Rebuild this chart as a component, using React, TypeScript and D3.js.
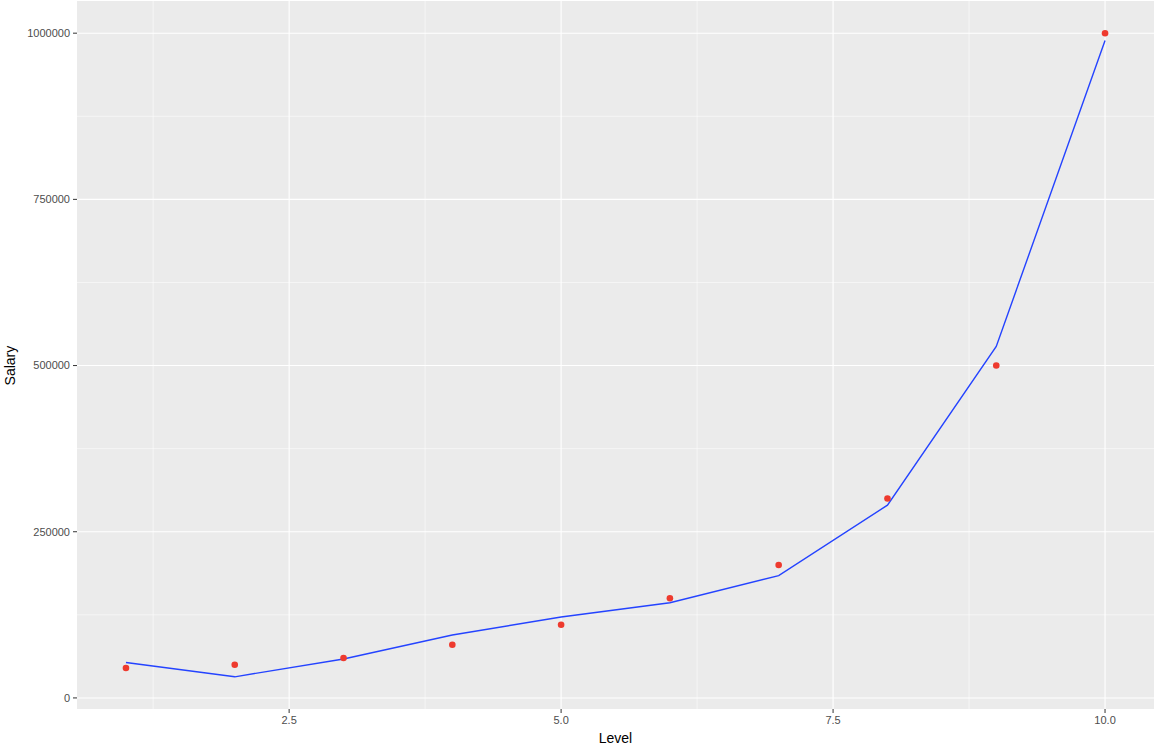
import * as d3 from "d3";

const levels = [1, 2, 3, 4, 5, 6, 7, 8, 9, 10];
const salaries = [45000, 50000, 60000, 80000, 110000, 150000, 200000, 300000, 500000, 1000000];
const predicted = [53357, 31760, 58642, 94633, 121725, 143275, 184004, 289994, 528694, 988917];
const xTicks = [2.5, 5, 7.5, 10];
const xMinor = [1.25, 3.75, 6.25, 8.75];
const yTicks = [0, 250000, 500000, 750000, 1000000];
const yMinor = [125000, 375000, 625000, 875000];

const W = 1157;
const H = 747;
const margin = { top: 1, right: 3, bottom: 38, left: 77 };

export default function App() {
  const iw = W - margin.left - margin.right;
  const ih = H - margin.top - margin.bottom;

  const xMin = d3.min(levels)!;
  const xMax = d3.max(levels)!;
  const xPad = (xMax - xMin) * 0.05;
  const x = d3.scaleLinear().domain([xMin - xPad, xMax + xPad]).range([0, iw]);

  const allY = [...salaries, ...predicted];
  const yLo = d3.min(allY)!;
  const yHi = d3.max(allY)!;
  const yPad = (yHi - yLo) * 0.05;
  const y = d3.scaleLinear().domain([yLo - yPad, yHi + yPad]).range([ih, 0]);

  const line = d3
    .line<number>()
    .x((_, i) => x(levels[i]))
    .y((d) => y(d));

  const font = "'Liberation Sans', Arial, Helvetica, sans-serif";

  return (
    <svg
      width={W}
      height={H}
      style={{ position: "absolute", left: 0, top: 0, background: "#fff" }}
      fontFamily={font}
    >
      <g transform={`translate(${margin.left},${margin.top})`}>
        <rect width={iw} height={ih} fill="#EBEBEB" />
        {yMinor.map((t) => (
          <line key={"ym" + t} x1={0} x2={iw} y1={y(t)} y2={y(t)} stroke="#fff" strokeWidth={0.55} />
        ))}
        {xMinor.map((t) => (
          <line key={"xm" + t} x1={x(t)} x2={x(t)} y1={0} y2={ih} stroke="#fff" strokeWidth={0.55} />
        ))}
        {yTicks.map((t) => (
          <line key={"y" + t} x1={0} x2={iw} y1={y(t)} y2={y(t)} stroke="#fff" strokeWidth={1.1} />
        ))}
        {xTicks.map((t) => (
          <line key={"x" + t} x1={x(t)} x2={x(t)} y1={0} y2={ih} stroke="#fff" strokeWidth={1.1} />
        ))}

        <path d={line(predicted)!} fill="none" stroke="#2443FF" strokeWidth={1.4} />
        {levels.map((l, i) => (
          <circle key={l} cx={x(l)} cy={y(salaries[i])} r={3.3} fill="#EE3A2E" />
        ))}

        {yTicks.map((t) => (
          <g key={"yl" + t} transform={`translate(0,${y(t)})`}>
            <line x1={-4} x2={0} stroke="#333" strokeWidth={1} />
            <text x={-7} dy="0.35em" textAnchor="end" fontSize={11} fill="#4D4D4D">
              {d3.format("d")(t)}
            </text>
          </g>
        ))}
        {xTicks.map((t) => (
          <g key={"xl" + t} transform={`translate(${x(t)},${ih})`}>
            <line y1={0} y2={4} stroke="#333" strokeWidth={1} />
            <text y={15} textAnchor="middle" fontSize={11} fill="#4D4D4D">
              {d3.format(".1f")(t)}
            </text>
          </g>
        ))}

        <text x={iw / 2} y={ih + 34} textAnchor="middle" fontSize={14} fill="#000">
          Level
        </text>
      </g>
      <text
        transform={`translate(15,${margin.top + y(500000)}) rotate(-90)`}
        textAnchor="middle"
        fontSize={14}
        fill="#000"
      >
        Salary
      </text>
    </svg>
  );
}
